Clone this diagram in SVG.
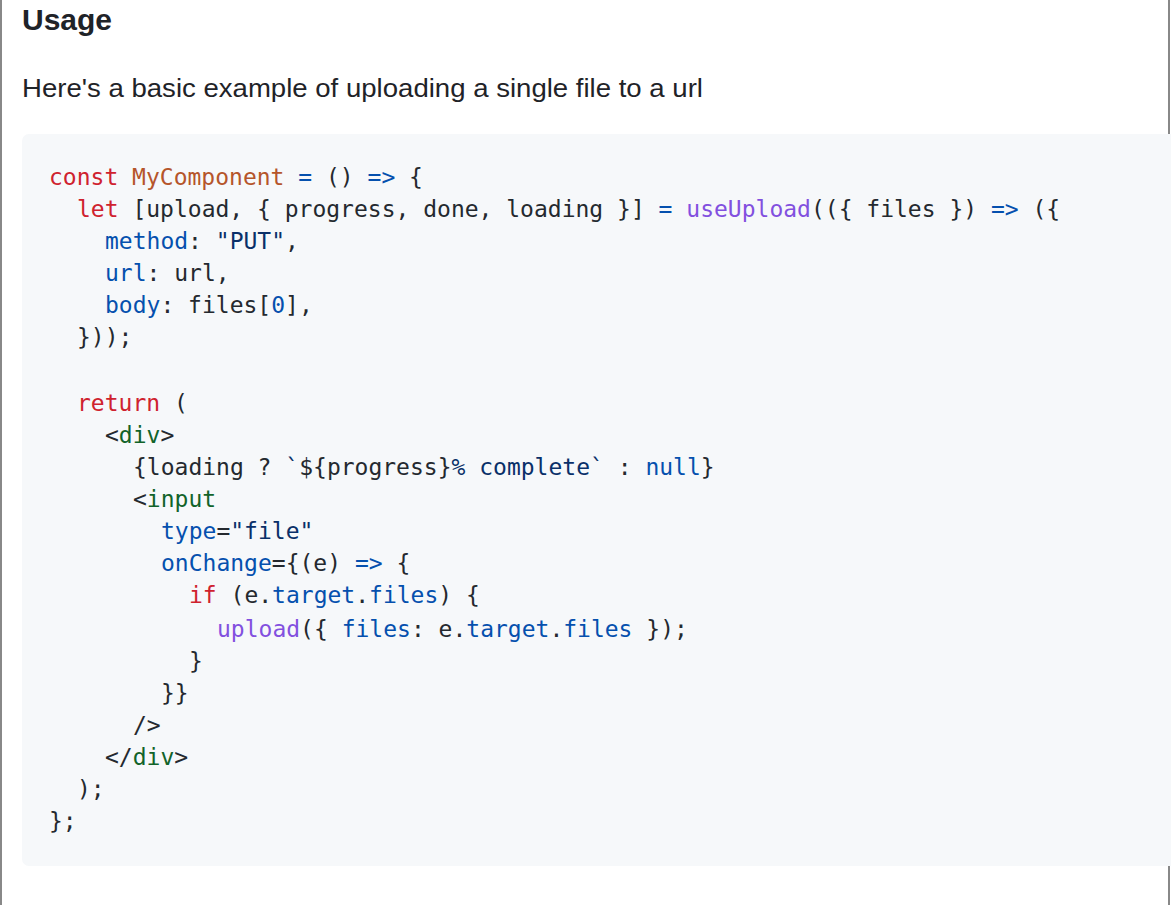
<svg xmlns="http://www.w3.org/2000/svg" width="1171" height="905" viewBox="0 0 1171 905">
<style>
.c{font-family:"DejaVu Sans Mono",monospace;font-size:23px;fill:#24292f}
.k{fill:#cf222e}.o{fill:#b5552a}.b{fill:#0550ae}.p{fill:#8250df}.s{fill:#0a3069}.g{fill:#116329}
</style>
<rect width="1171" height="905" fill="#fff"/>
<line x1="1" y1="0" x2="1" y2="905" stroke="#888" stroke-width="2"/>
<line x1="1169" y1="0" x2="1169" y2="905" stroke="#888" stroke-width="2"/>
<text x="22" y="30" font-family="Liberation Sans,Arial,sans-serif" font-size="30" font-weight="bold" fill="#1f2328">Usage</text>
<text x="22" y="97" font-family="Liberation Sans,Arial,sans-serif" font-size="25" fill="#1f2328" textLength="681" lengthAdjust="spacingAndGlyphs">Here's a basic example of uploading a single file to a url</text>
<rect x="22" y="134" width="1170" height="732" rx="7" fill="#f6f8fa"/>
<g id="code" class="c" xml:space="preserve">
<text x="49" y="185"><tspan class="k">const</tspan> <tspan class="o">MyComponent</tspan> <tspan class="b">=</tspan> () <tspan class="b">=&gt;</tspan> {</text>
<text x="77" y="217"><tspan class="k">let</tspan> [upload, { progress, done, loading }] <tspan class="b">=</tspan> <tspan class="p">useUpload</tspan>(({ files }) <tspan class="b">=&gt;</tspan> ({</text>
<text x="105" y="249"><tspan class="b">method</tspan>: <tspan class="s">"PUT"</tspan>,</text>
<text x="105" y="281"><tspan class="b">url</tspan>: url,</text>
<text x="105" y="313"><tspan class="b">body</tspan>: files[<tspan class="b">0</tspan>],</text>
<text x="77" y="345">}));</text>
<text x="77" y="411"><tspan class="k">return</tspan> (</text>
<text x="105" y="443">&lt;<tspan class="g">div</tspan>&gt;</text>
<text x="133" y="475">{loading ? <tspan class="s">`</tspan>${progress}<tspan class="s">% complete`</tspan> : <tspan class="b">null</tspan>}</text>
<text x="133" y="507">&lt;<tspan class="g">input</tspan></text>
<text x="161" y="539"><tspan class="b">type</tspan>=<tspan class="s">"file"</tspan></text>
<text x="161" y="571"><tspan class="b">onChange</tspan>={(e) <tspan class="b">=&gt;</tspan> {</text>
<text x="189" y="603"><tspan class="k">if</tspan> (e.<tspan class="b">target</tspan>.<tspan class="b">files</tspan>) {</text>
<text x="217" y="637"><tspan class="p">upload</tspan>({ <tspan class="b">files</tspan>: e.<tspan class="b">target</tspan>.<tspan class="b">files</tspan> });</text>
<text x="189" y="669">}</text>
<text x="161" y="701">}}</text>
<text x="133" y="733">/&gt;</text>
<text x="105" y="765">&lt;/<tspan class="g">div</tspan>&gt;</text>
<text x="77" y="797">);</text>
<text x="49" y="829">};</text>
</g>
</svg>
